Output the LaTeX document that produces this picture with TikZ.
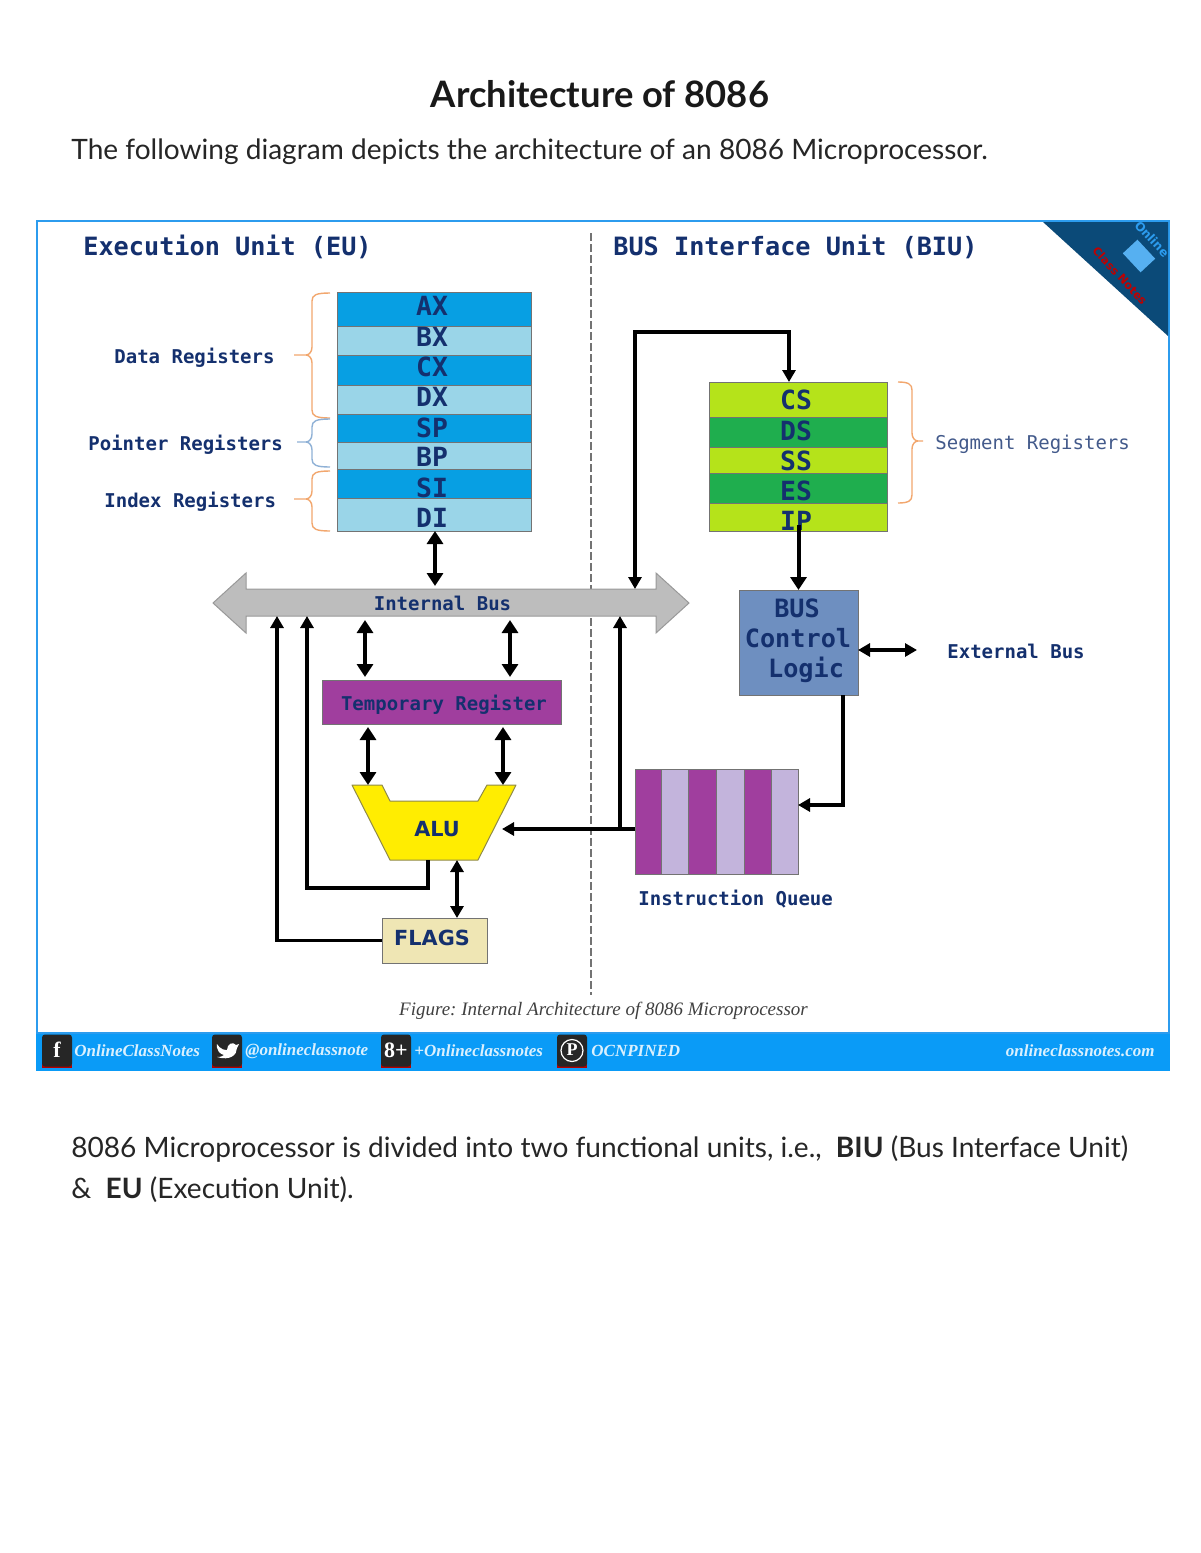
\documentclass[tikz,border=0pt]{standalone}
\usepackage{fontspec}
\setmainfont{Lato}
\newfontfamily\monof{DejaVu Sans Mono}
\newfontfamily\dejaf{DejaVu Sans}
\newfontfamily\timesf{Liberation Serif}
\usetikzlibrary{arrows.meta,calc}
\definecolor{navy}{HTML}{14306E}
\definecolor{regA}{HTML}{079FE3}
\definecolor{regB}{HTML}{9AD5E8}
\definecolor{segA}{HTML}{B5E31A}
\definecolor{segB}{HTML}{1FAE4E}
\definecolor{purp}{HTML}{A03E9E}
\definecolor{lilac}{HTML}{C3B4DC}
\definecolor{busgray}{HTML}{BDBDBD}
\definecolor{ctrl}{HTML}{6E8FC0}
\definecolor{flagc}{HTML}{EFE6B4}
\definecolor{framec}{HTML}{2C9CEE}
\definecolor{footc}{HTML}{0A9BF7}
\definecolor{cornerc}{HTML}{0B4A78}
\definecolor{bracea}{HTML}{F2A76E}
\definecolor{braceb}{HTML}{8FB1D6}
\tikzset{
  x=0.5pt,y=-0.5pt,
  cellbox/.style={draw=black!55,line width=0.5pt,inner sep=0pt,outer sep=0pt},
  celltext/.style={inner sep=0pt,text=navy,font=\monof\bfseries\fontsize{13.2}{14}\selectfont},
  heading/.style={inner sep=0pt,anchor=west,text=navy,text height=0.95em,text depth=0.1em,font=\monof\bfseries\fontsize{12.6}{15}\selectfont},
  side/.style={inner sep=0pt,anchor=west,text=navy,text height=0.95em,text depth=0.1em,font=\monof\bfseries\fontsize{9.5}{11}\selectfont},
  sideplain/.style={inner sep=0pt,anchor=west,text=navy!80,text height=0.95em,text depth=0.1em,font=\monof\fontsize{9.5}{11}\selectfont},
  sanslabel/.style={inner sep=0pt,text=navy,font=\dejaf\bfseries\fontsize{10.4}{12}\selectfont},
  ghost/.style={inner sep=0pt,outer sep=0pt},
  bodytext/.style={inner sep=0pt,anchor=base west,text=black!85,font=\fontsize{14.03}{16}\selectfont},
  heavy/.style={line width=2pt,{Triangle[length=6.5pt,width=8pt]}-{Triangle[length=6.5pt,width=8pt]}},
  heavyend/.style={line width=2pt,-{Triangle[length=6.5pt,width=8pt]}},
  thin2/.style={line width=1.8pt,{Triangle[length=6pt,width=6.5pt]}-{Triangle[length=6pt,width=6.5pt]},line join=miter},
  thinend/.style={line width=1.8pt,-{Triangle[length=6pt,width=6.5pt]},line join=miter},
  footlabel/.style={inner sep=0pt,anchor=west,text=white!85!footc,font=\timesf\bfseries\itshape\fontsize{8.5}{10}\selectfont},
  iconbox/.style={fill=black!85,rounded corners=1.5pt,minimum width=15pt,minimum height=16pt,inner sep=0pt,outer sep=0pt},
  iconglyph/.style={inner sep=0pt,text=white,font=\timesf\bfseries\fontsize{11}{13}\selectfont},
}
\newcommand{\regcell}[8]{% name, xc, yc, w(pt), h(pt), colour, text, text y
  \node[cellbox,fill=#6,minimum width=#4pt,minimum height=#5pt] (#1) at (#2,#3) {};
  \node[celltext] (#1t) at (#2-2,#8) {#7};
}
\newcommand{\leftbrace}[6]{% colour, x end, x mid, y top, y mid, y bottom ; tip given by \bracetip
  \draw[#1,line width=0.7pt,line join=round]
    (#2,#4) .. controls (#3+4,#4) and (#3,#4+2) .. (#3,#4+8)
    -- (#3,#5-8) .. controls (#3,#5-3) and (#3-3,#5) .. (#3-6,#5) -- (\bracetip,#5)
    (#3-6,#5) .. controls (#3-3,#5) and (#3,#5+3) .. (#3,#5+8)
    -- (#3,#6-8) .. controls (#3,#6-2) and (#3+4,#6) .. (#2,#6);
}
\begin{document}
\begin{tikzpicture}
\useasboundingbox (0,0) rectangle (1200,1553);
\fill[white] (0,0) rectangle (1200,1553);

% page text
\node[inner sep=0pt,text=black!90,font=\fontsize{18.2}{20}\selectfont\bfseries] (title) at (600,94) {Architecture of 8086};
\node[bodytext] (intro) at (71,159) {The following diagram depicts the architecture of an 8086 Microprocessor.};
\node[bodytext] (para1) at (71,1157) {8086 Microprocessor is divided into two functional units, i.e.,\ \ \textbf{BIU} (Bus Interface Unit)};
\node[bodytext] (para2) at (71,1198) {\&\ \ \textbf{EU} (Execution Unit).};

% frame and footer
\fill[white] (36,220) rectangle (1170,1071);
\fill[footc] (36,1033) rectangle (1170,1071);
\draw[framec,line width=1.2pt] (37,221) rectangle (1169,1033);

% corner badge
\fill[cornerc] (1043,222) -- (1168,222) -- (1168,336) -- cycle;
\node[inner sep=0pt,rotate=-47,text=framec,font=\dejaf\bfseries\fontsize{6}{7}\selectfont] (badgea) at (1152,239) {Online};
\node[inner sep=0pt,rotate=-47,text=red!75!black,font=\dejaf\bfseries\fontsize{5.6}{7}\selectfont] (badgeb) at (1120,276) {Class Notes};
\node[fill=framec!80!white,rotate=-47,minimum width=13pt,minimum height=10pt,inner sep=0pt] (badgebook) at (1139,256) {};

% headings
\node[heading] (eu) at (83,247) {Execution Unit (EU)};
\node[heading] (biu) at (613,247) {BUS Interface Unit (BIU)};

% divider
\coordinate (divtop) at (591,233);
\coordinate (divbot) at (591,995);
\draw[black!55,line width=0.8pt,dash pattern=on 4pt off 1.5pt] (divtop) -- (divbot);

% left register stack
\regcell{ax}{434}{309}{97}{17}{regA}{AX}{306}
\regcell{bx}{434}{340.5}{97}{14.5}{regB}{BX}{337}
\regcell{cx}{434}{370}{97}{15}{regA}{CX}{367}
\regcell{dx}{434}{399.5}{97}{14.5}{regB}{DX}{397}
\regcell{sp}{434}{428}{97}{14}{regA}{SP}{428}
\regcell{bp}{434}{455.5}{97}{13.5}{regB}{BP}{457}
\regcell{si}{434}{483.5}{97}{14.5}{regA}{SI}{488}
\regcell{di}{434}{514.5}{97}{16.5}{regB}{DI}{518}

% braces left
\def\bracetip{294}
\leftbrace{bracea}{330}{312}{293}{355}{418}
\def\bracetip{297}
\leftbrace{braceb}{330}{312}{419}{442}{467}
\def\bracetip{294}
\leftbrace{bracea}{330}{312}{471}{499}{531}
\node[side] (datal) at (114,355) {Data Registers};
\node[side] (pointl) at (88,442) {Pointer Registers};
\node[side] (indexl) at (104,499) {Index Registers};

% right register stack
\regcell{cs}{798}{399.5}{89}{17.5}{segA}{CS}{400}
\regcell{ds}{798}{432}{89}{15}{segB}{DS}{431}
\regcell{ss}{798}{460}{89}{13}{segA}{SS}{461}
\regcell{es}{798}{488}{89}{15}{segB}{ES}{491}
\regcell{ip}{798}{517}{89}{14}{segA}{IP}{521}
\draw[bracea,line width=0.7pt,line join=round]
  (898,382) .. controls (908,382) and (912,384) .. (912,390)
  -- (912,433) .. controls (912,438) and (915,441) .. (918,441) -- (923,441)
  (918,441) .. controls (915,441) and (912,444) .. (912,449)
  -- (912,495) .. controls (912,501) and (908,503) .. (898,503);
\node[sideplain] (segl) at (935,441) {Segment Registers};

% internal bus
\fill[busgray,draw=black!40,line width=0.5pt]
  (213,603) -- (246,573) -- (246,589) -- (656,589) -- (656,573) -- (689,603)
  -- (656,633) -- (656,616) -- (246,616) -- (246,633) -- cycle;
\node[ghost,minimum width=205pt,minimum height=13.5pt] (bus) at (451,602.5) {};
\node[side,anchor=center] (bust) at (442.5,602) {Internal Bus};

% temp reg
\node[cellbox,fill=purp,minimum width=119.5pt,minimum height=22pt] (temp) at (441.5,702) {};
\node[side,anchor=center] (tempt) at (444,702) {Temporary Register};

% ALU
\fill[yellow!95!orange,draw=black!50!yellow,line width=0.5pt,line join=round]
  (352,785) -- (382,785) -- (390,801) -- (478,801) -- (487,785) -- (516,785)
  -- (478,860) -- (390,860) -- cycle;
\node[ghost,minimum width=82pt,minimum height=37.5pt] (alu) at (434,822.5) {};
\node[sanslabel] (alut) at (437,829) {ALU};

% flags
\node[cellbox,fill=flagc,minimum width=52.5pt,minimum height=22.5pt] (flags) at (434.5,940.5) {};
\node[sanslabel] (flagst) at (432,938) {FLAGS};

% bus control
\node[cellbox,fill=ctrl,minimum width=59.5pt,minimum height=52.5pt] (ctl) at (798.5,642.5) {};
\node[heading,anchor=center] (ctla) at (797,609) {BUS};
\node[heading,anchor=center] (ctlb) at (798,639) {Control};
\node[heading,anchor=center] (ctlc) at (806,669) {Logic};
\node[side,anchor=west] (extl) at (947,650) {External Bus};
\coordinate (ext) at (917,650);

% queue
\foreach \nm/\xa/\xb/\cc in {qa/635/661/purp,qb/661/688/lilac,qc/688/716/purp,qd/716/744/lilac,qe/744/771/purp,qf/771/798/lilac}{
  \draw[black!55,line width=0.5pt,fill=\cc] (\xa,769) rectangle (\xb,874);
}
\node[ghost,minimum width=81.5pt,minimum height=52.5pt] (queue) at (716.5,821.5) {};
\node[side] (queuel) at (638,897) {Instruction Queue};

% caption
\node[inner sep=0pt,text=black!75,font=\timesf\itshape\fontsize{9.5}{11}\selectfont] (caption) at (603.5,1011) {\frenchspacing Figure: Internal Architecture of 8086 Microprocessor};

% ports for connectors
\coordinate (p435) at (435,0);
\coordinate (p365) at (365,0);
\coordinate (p510) at (510,0);
\coordinate (p368) at (368,0);
\coordinate (p503) at (503,0);
\coordinate (p428) at (428,0);
\coordinate (p307) at (307,0);
\coordinate (p277) at (277,0);
\coordinate (p457) at (457,0);
\coordinate (p620) at (620,0);
\coordinate (p635) at (635,0);
\coordinate (p789) at (789,0);
\coordinate (p843) at (843,0);
\coordinate (y332) at (0,332);
\coordinate (y888) at (0,888);
\coordinate (y805) at (0,805);
\coordinate (y829) at (0,829);
\coordinate (y650) at (0,650);
\coordinate (aluport) at (502,829);

% connectors
\draw[heavy] (di.south -| p435) -- ($(bus.north -| p435)+(0,-3)$);
\draw[heavy] ($(bus.south -| p365)+(0,4)$) -- ($(temp.north -| p365)+(0,-3)$);
\draw[heavy] ($(bus.south -| p510)+(0,4)$) -- ($(temp.north -| p510)+(0,-3)$);
\draw[heavy] ($(temp.south -| p368)+(0,3)$) -- (alu.north -| p368);
\draw[heavy] ($(temp.south -| p503)+(0,3)$) -- (alu.north -| p503);
\draw[thinend] (alu.south -| p428) -- (p428 |- y888) -- (p307 |- y888) -- (bus.south -| p307);
\draw[thinend] (flags.west) -- (flags.west -| p277) -- (bus.south -| p277);
\draw[thin2] (alu.south -| p457) -- (flags.north -| p457);
\draw[thinend] (queue.west |- y829) -- (aluport);
\draw[thinend] (queue.west -| p620) ++(0,7.5) -- (bus.south -| p620);
\draw[thin2] (bus.north -| p635) -- (p635 |- y332) -- (p789 |- y332) -- (cs.north -| p789);
\draw[heavyend] (ip.south -| ctl.north) ++(0,-6) -- (ctl.north);
\draw[thin2] (ctl.east |- y650) -- (ext);
\draw[thinend] (ctl.south -| p843) -- (p843 |- y805) -- (queue.east |- y805);

% footer icons
\foreach \nm/\xc in {ica/57,icb/227,icc/396,icd/572}{
  \fill[red!70!black] (\xc-15,1052) rectangle (\xc+15,1068);
  \node[iconbox] (\nm) at (\xc,1050.5) {};
}
\node[iconglyph] (fglyph) at (57,1050) {f};
\fill[white] (217,1044) .. controls (221,1050) and (225,1050) .. (227,1050)
  .. controls (227,1044) and (233,1041) .. (236,1045) -- (239,1044) -- (237,1048)
  .. controls (237,1055) and (230,1061) .. (217,1057) .. controls (221,1057) and (223,1056) .. (224,1055)
  .. controls (220,1054) and (218,1051) .. (218,1050) .. controls (217,1048) and (216,1046) .. (217,1044) -- cycle;
\node[iconglyph] (gglyph) at (396,1050) {8+};
\draw[white,line width=0.6pt] (icd.center) circle (11);
\node[iconglyph,font=\timesf\bfseries\fontsize{9}{11}\selectfont] (pglyph) at (572,1050) {P};
\node[footlabel] (fa) at (74,1051) {OnlineClassNotes};
\node[footlabel] (fb) at (245,1051) {@onlineclassnote};
\node[footlabel] (fc) at (414,1051) {+Onlineclassnotes};
\node[footlabel] (fd) at (591,1051) {OCNPINED};
\node[footlabel,anchor=east] (fe) at (1155,1051) {onlineclassnotes.com};
\end{tikzpicture}
\end{document}
